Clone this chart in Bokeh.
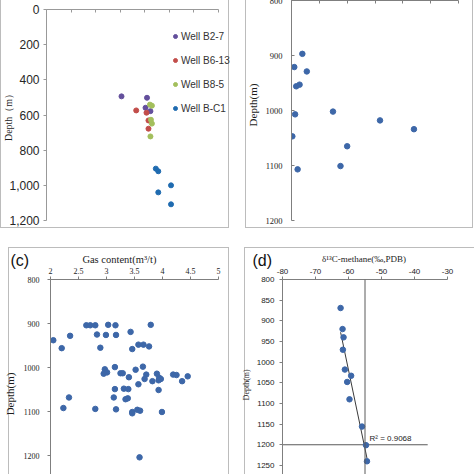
import numpy as np
from bokeh.plotting import figure
from bokeh.layouts import column, row
from bokeh.models import (Range1d, FixedTicker, NumeralTickFormatter, LinearAxis,
                          Label, Legend, LegendItem, Span, Title)
from bokeh.embed import file_html
from bokeh.resources import INLINE

# ---------------- data ----------------
# (a) depth of samples from four wells
a_wells = ["Well B2-7", "Well B6-13", "Well B8-5", "Well B-C1"]
a_b27_x = [1.53, 2.05, 2.02, 2.12]
a_b27_depth = [494, 502, 559, 578]
a_b613_x = [1.83, 2.04, 2.08, 2.08]
a_b613_depth = [574, 587, 631, 678]
a_b85_x = [2.11, 2.15, 2.13, 2.15, 2.12]
a_b85_depth = [541, 547, 627, 649, 722]
a_bc1_x = [2.23, 2.28, 2.54, 2.28, 2.54]
a_bc1_depth = [905, 920, 1000, 1040, 1108]
a_depth_ticks = [0, 200, 400, 600, 800, 1000, 1200]
a_x_ticks = [0, 0.5, 1, 1.5, 2, 2.5, 3, 3.5]

# (b) well B-C1 samples
b_x = [0.39, 0.10, 0.55, 0.17, 0.29, 1.49, 0.13, 3.18, 4.40, 0.03, 2.00, 1.76, 0.22]
b_depth = [897, 921, 929, 956, 953, 1002, 1007, 1018, 1034, 1047, 1065, 1101, 1107]
b_depth_ticks = [800, 900, 1000, 1100, 1200]
b_x_ticks = [0, 1, 2, 3, 4, 5, 6]

# (c) gas content vs depth
c_gas = [2.64, 2.71, 2.80, 3.03, 3.16, 3.79,
         2.83, 2.99, 2.35, 3.17, 3.43,
         2.05, 2.20, 2.89, 3.46, 3.57, 3.66, 3.76,
         2.97, 3.01, 2.95, 3.15, 3.25, 3.29, 3.40, 3.52, 3.65, 3.71, 3.68, 3.57,
         3.82, 3.90, 3.94, 3.97, 3.93, 4.19, 4.25, 4.35, 4.45,
         3.15, 3.31, 3.39, 3.93,
         2.33, 3.13, 3.34, 3.38,
         2.23, 2.80, 3.17, 3.46, 3.46, 3.55, 3.60, 3.99,
         3.59]
c_depth = [904, 904, 904, 903, 904, 903,
           925, 926, 928, 926, 919,
           938, 956, 955, 958, 948, 948, 952,
           1004, 1011, 1014, 999, 1013, 1013, 1022, 1005, 998, 1016, 1026, 1038,
           1031, 1014, 1023, 1026, 1029, 1016, 1017, 1031, 1020,
           1049, 1048, 1049, 1051,
           1068, 1068, 1072, 1070,
           1092, 1094, 1095, 1101, 1104, 1096, 1098, 1101,
           1204]
c_gas_ticks = [2, 2.5, 3, 3.5, 4, 4.5, 5]
c_depth_ticks = [800, 900, 1000, 1100, 1200]

# (d) methane carbon isotope vs depth
d_d13c = [-62.4, -61.8, -61.5, -61.7, -61.1, -59.2, -60.4, -59.7, -55.9, -54.7, -54.4]
d_depth = [869, 920, 940, 970, 1018, 1033, 1048, 1090, 1156, 1201, 1240]
d_r2_text = "R\u00b2 = 0.9068"
d_marker_d13c = -55.0
d_marker_depth = 1200.0
d_marker_from, d_marker_to = -80.0, -36.0
d_x_ticks = [-80, -70, -60, -50, -40, -30]
d_depth_ticks = [800, 850, 900, 950, 1000, 1050, 1100, 1150, 1200, 1250]

# ---------------- styling ----------------
SERIF = "Liberation Serif"
SANS = "Liberation Sans"
AXIS_GREY = "#7f7f7f"
FRAME_GREY = "#bcbcbc"
TEXT = "#1c1c1c"
DOT = "#3d67a8"
W = H = 237


def frame_css(lines):
    """Thin grey chart-area border drawn behind the transparent canvas."""
    grad = "linear-gradient(%s, %s)" % (FRAME_GREY, FRAME_GREY)
    return {
        "background-image": ", ".join([grad] * len(lines)),
        "background-size": ", ".join("%dpx %dpx" % (w, h) for _, _, w, h in lines),
        "background-position": ", ".join("%dpx %dpx" % (x, y) for x, y, _, _ in lines),
        "background-repeat": "no-repeat",
    }


def make_fig(g, x_range, y_range, lines):
    p = figure(width=W, height=g["h"], x_range=x_range, y_range=y_range, title=None,
               output_backend="svg", toolbar_location=None,
               x_axis_location="above",
               min_border_left=g["left"], min_border_right=g["right"],
               min_border_top=g["top"], min_border_bottom=g["bottom"])
    p.grid.visible = False
    p.outline_line_color = None
    p.border_fill_color = None
    p.background_fill_color = None
    p.styles = frame_css(lines)
    return p


def style_axis(ax, font, size, tin, tout, standoff, color=AXIS_GREY):
    ax.axis_line_color = color
    ax.axis_line_width = 1
    ax.major_tick_line_color = color
    ax.minor_tick_line_color = None
    ax.major_tick_in = tin
    ax.major_tick_out = tout
    ax.major_label_standoff = standoff
    ax.major_label_text_font = font
    ax.major_label_text_font_size = size
    ax.major_label_text_color = TEXT


def hide_labels(ax):
    # top scale whose numbers lie above the visible area: keep line and ticks only
    ax.major_label_text_font_size = "1px"
    ax.major_label_text_alpha = 0
    ax.major_label_standoff = 0


def x_at(g, xr, cx):
    fw = W - g["left"] - g["right"]
    return round(xr[0] + (cx - g["left"]) * (xr[1] - xr[0]) / fw, 2)


def y_at(g, yr, cy):
    # yr = (value at frame top, value at frame bottom); cy in canvas pixels
    fh = g["h"] - g["top"] - g["bottom"]
    return int(round(yr[0] + (cy - g["top"]) * (yr[1] - yr[0]) / fh))


def text_axis(p, side, pos, text, font, size, standoff, vertical=False):
    """Axis without line or ticks that carries one caption at a data position."""
    ax = LinearAxis(ticker=FixedTicker(ticks=[pos]), major_label_overrides={pos: text})
    ax.axis_line_color = None
    ax.major_tick_line_color = None
    ax.minor_tick_line_color = None
    ax.major_tick_in = 0
    ax.major_tick_out = 0
    ax.major_label_standoff = standoff
    ax.major_label_text_font = font
    ax.major_label_text_font_size = size
    ax.major_label_text_color = TEXT
    if vertical:
        ax.major_label_orientation = "vertical"
    p.add_layout(ax, side)


def panel_tag(p, text, offset, standoff):
    p.add_layout(Title(text=text, align="left", offset=offset, standoff=standoff,
                       vertical_align="bottom", text_font=SANS, text_font_size="16px",
                       text_font_style="normal", text_color="#111111"), "above")


# Both upper charts continue above the visible area: their canvases are taller and
# pulled up. They share the same top/bottom borders so their frames line up.
TOP_BORDER = 15
BOTTOM_BORDER = 17

# ---------------- (a) ----------------
A_HIDDEN = TOP_BORDER - 9
ga = dict(left=43, right=0, top=TOP_BORDER, bottom=BOTTOM_BORDER, h=H + A_HIDDEN)
a_xr = (0, 3.896)
pa = make_fig(ga, Range1d(*a_xr), Range1d(1200, 0),
              [(0, 0, 1, 228 + A_HIDDEN), (228, 0, 1, 228 + A_HIDDEN),
               (0, 227 + A_HIDDEN, 229, 1)])
pa.margin = (-A_HIDDEN, 0, 0, 0)
style_axis(pa.xaxis[0], SANS, "11px", 3, 0, 0, "#999999")
pa.xaxis[0].ticker = FixedTicker(ticks=a_x_ticks)
pa.xaxis[0].bounds = (a_x_ticks[0], a_x_ticks[-1])
hide_labels(pa.xaxis[0])
style_axis(pa.yaxis[0], SANS, "12px", 0, 3, 4, "#999999")
pa.yaxis[0].ticker = FixedTicker(ticks=a_depth_ticks)
pa.yaxis[0].formatter = NumeralTickFormatter(format="0,0")
pa.yaxis[0].major_label_text_color = "#262626"
pa.yaxis[0].axis_label = "Depth\uff08m\uff09"
pa.yaxis[0].axis_label_text_font = SERIF
pa.yaxis[0].axis_label_text_font_size = "10px"
pa.yaxis[0].axis_label_text_font_style = "normal"
pa.yaxis[0].axis_label_text_color = TEXT
pa.yaxis[0].axis_label_standoff = -8

a_colors = ["#634f9c", "#c24d4a", "#a3bf5c", "#1f6bb0"]
a_series = [(a_b27_x, a_b27_depth), (a_b613_x, a_b613_depth),
            (a_b85_x, a_b85_depth), (a_bc1_x, a_bc1_depth)]
items = []
for name, col, (xs, ys) in zip(a_wells, a_colors, a_series):
    r = pa.scatter(xs, ys, size=5, color=col)
    items.append(LegendItem(label=name, renderers=[r]))
legend = Legend(items=items, location=(124, 105), glyph_width=10, glyph_height=12,
                label_standoff=1, spacing=10, label_height=14, padding=0, margin=0,
                border_line_color=None, background_fill_alpha=0,
                label_text_font=SANS, label_text_font_size="10px",
                label_text_color="#333333")
pa.add_layout(legend)

# ---------------- (b) ----------------
B_HIDDEN = TOP_BORDER
gb = dict(left=54, right=16, top=TOP_BORDER, bottom=BOTTOM_BORDER, h=H + B_HIDDEN)
b_xr, b_yr = (0, 6), (800, 1200)
pb = make_fig(gb, Range1d(*b_xr), Range1d(b_yr[1], b_yr[0]),
              [(8, 0, 1, 228 + B_HIDDEN), (235, 0, 1, 228 + B_HIDDEN),
               (8, 227 + B_HIDDEN, 228, 1)])
pb.margin = (-B_HIDDEN, 0, 0, 0)
style_axis(pb.xaxis[0], SERIF, "8.5px", 3, 0, 0)
pb.xaxis[0].ticker = FixedTicker(ticks=b_x_ticks)
hide_labels(pb.xaxis[0])
style_axis(pb.yaxis[0], SERIF, "8.5px", 3, 0, 9)
pb.yaxis[0].ticker = FixedTicker(ticks=b_depth_ticks)
pb.scatter(b_x, b_depth, size=5.5, color=DOT)
text_axis(pb, "left", y_at(gb, b_yr, 104.5 + B_HIDDEN), "Depth(m)", SERIF, "11px", 4,
          vertical=True)

# ---------------- (c) ----------------
gc = dict(left=50, right=19, top=42, bottom=0, h=H)
c_xr, c_yr = (2, 5), (800, 1243)
pc = make_fig(gc, Range1d(*c_xr), Range1d(c_yr[1], c_yr[0]),
              [(8, 10, 1, 227), (228, 10, 1, 227), (8, 10, 221, 1)])
style_axis(pc.xaxis[0], SERIF, "8px", 0, 3, 3)
pc.xaxis[0].ticker = FixedTicker(ticks=c_gas_ticks)
pc.xaxis[0].formatter = NumeralTickFormatter(format="0.[0]")
style_axis(pc.yaxis[0], SERIF, "8px", 0, 3, 8)
pc.yaxis[0].ticker = FixedTicker(ticks=c_depth_ticks)
pc.scatter(c_gas, c_depth, size=5.5, color=DOT)
text_axis(pc, "above", x_at(gc, c_xr, 119), "Gas content(m\u00b3/t)", SERIF, "10.5px", 0)
text_axis(pc, "left", y_at(gc, c_yr, 156.5), "Depth(m)", SERIF, "11px", 4, vertical=True)
panel_tag(pc, "(c)", -40, -36)

# ---------------- (d) ----------------
gd = dict(left=45, right=27, top=42, bottom=0, h=H)
d_xr, d_yr = (-80, -30), (800, 1272)
pd_ = make_fig(gd, Range1d(*d_xr), Range1d(d_yr[1], d_yr[0]),
               [(7, 10, 1, 227), (7, 10, 230, 1)])
style_axis(pd_.xaxis[0], SANS, "8px", 0, 3, 3)
pd_.xaxis[0].ticker = FixedTicker(ticks=d_x_ticks)
pd_.xaxis[0].formatter = NumeralTickFormatter(format="0")
style_axis(pd_.yaxis[0], SANS, "8px", 0, 3, 5)
pd_.yaxis[0].ticker = FixedTicker(ticks=d_depth_ticks)

pd_.add_layout(Span(location=d_marker_d13c, dimension="height",
                    line_color="#5a5a5a", line_width=1))
pd_.segment(x0=[d_marker_from], y0=[d_marker_depth], x1=[d_marker_to], y1=[d_marker_depth],
            line_color="#5a5a5a", line_width=1)

coef = np.polyfit(d_d13c, d_depth, 1)
fit_x = np.array([min(d_d13c), max(d_d13c)])
pd_.line(fit_x, np.polyval(coef, fit_x), line_color="#3a3a3a", line_width=1)
pd_.scatter(d_d13c, d_depth, size=5.5, color=DOT)

pd_.add_layout(Label(x=x_at(gd, d_xr, 132), y=y_at(gd, d_yr, 201), text=d_r2_text,
                     text_font=SANS, text_font_size="8px", text_color=TEXT,
                     text_align="left", text_baseline="middle"))
text_axis(pd_, "above", x_at(gd, d_xr, 126.5), "\u03b4\u00b9\u00b3C-methane(\u2030,PDB)",
          SERIF, "9px", 2)
text_axis(pd_, "left", y_at(gd, d_yr, 147.5), "Depth(m)", SERIF, "8px", 2, vertical=True)
panel_tag(pd_, "(d)", -30, -36)

layout = column(row(pa, pb), row(pc, pd_))
open("out.html", "w").write(file_html(layout, INLINE))
